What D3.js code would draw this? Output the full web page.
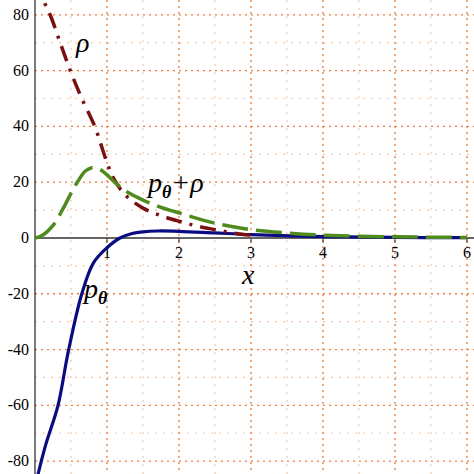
<!DOCTYPE html>
<html>
<head>
<meta charset="utf-8">
<script src="https://cdn.jsdelivr.net/npm/d3@7"></script>
<style>
  body { margin: 0; background: #fff; }
</style>
</head>
<body>
<svg id="chart" width="474" height="474"></svg>
<script>
// values
const rhoX = [0, 0.1, 0.21, 0.35, 0.49, 0.65, 0.83, 1.0, 1.1, 1.25, 1.5, 1.75, 2.0, 2.25, 2.5, 2.75, 3.0];
const rhoY = [92, 86, 80, 70, 60, 50, 40, 27, 21, 15.5, 10.7, 8, 6, 4.3, 3, 1.8, 1];
const sumX = [0, 0.1, 0.25, 0.4, 0.5, 0.6, 0.7, 0.79, 0.9, 1.0, 1.15, 1.3, 1.5, 1.75, 2.0, 2.5, 3.0, 3.5, 4.0, 5.0, 6.0];
const sumY = [0, 0.9, 4.5, 11, 16, 20.5, 24, 25.2, 24.6, 22.6, 19, 16.2, 13.6, 11, 9, 5.3, 3, 1.8, 1, 0.4, 0.2];
const pX = [0.03, 0.15, 0.32, 0.46, 0.65, 0.81, 1.0, 1.18, 1.35, 1.5, 1.7, 2.0, 2.5, 3.0, 4.0, 5.0, 6.0];
const pY = [-86, -74, -60, -41, -20, -9, -3.5, 0, 1.6, 2.2, 2.5, 2.4, 1.8, 1.2, 0.5, 0.2, 0.1];
const xTicks = [1, 2, 3, 4, 5, 6];
const yTicks = [-80, -60, -40, -20, 0, 20, 40, 60, 80];

const serif = "'Liberation Serif', 'DejaVu Serif', serif";
const svg = d3.select("#chart").attr("font-family", serif);
const x = d3.scaleLinear().domain([0, 6]).range([35, 467]);
const y = d3.scaleLinear().domain([-84.6, 85.3]).range([474, 0]);

// grid
const minorX = d3.range(0.5, 6.1, 1), minorY = d3.range(-70, 81, 20);
const g = svg.append("g");
g.selectAll(".mx").data(minorX).join("line")
  .attr("x1", d => x(d)).attr("x2", d => x(d)).attr("y1", 0).attr("y2", 474)
  .attr("stroke", "#f5c9a8").attr("stroke-width", 1.2).attr("stroke-dasharray", "2,6");
g.selectAll(".my").data(minorY).join("line")
  .attr("y1", d => y(d)).attr("y2", d => y(d)).attr("x1", 35).attr("x2", 474)
  .attr("stroke", "#f5c9a8").attr("stroke-width", 1.2).attr("stroke-dasharray", "2,6");
g.selectAll(".Mx").data(xTicks).join("line")
  .attr("x1", d => x(d)).attr("x2", d => x(d)).attr("y1", 0).attr("y2", 474)
  .attr("stroke", "#ee7a40").attr("stroke-width", 1.3).attr("stroke-dasharray", "2,4");
g.selectAll(".My").data(yTicks.filter(d => d != 0)).join("line")
  .attr("y1", d => y(d)).attr("y2", d => y(d)).attr("x1", 35).attr("x2", 474)
  .attr("stroke", "#ee7a40").attr("stroke-width", 1.3).attr("stroke-dasharray", "2,4");

// axes
svg.append("line").attr("x1", x(0)).attr("x2", x(0)).attr("y1", 0).attr("y2", 474)
  .attr("stroke", "#333").attr("stroke-width", 1.3);
svg.append("line").attr("x1", x(0)).attr("x2", 474).attr("y1", y(0)).attr("y2", y(0))
  .attr("stroke", "#333").attr("stroke-width", 1.3);
svg.selectAll(".xt").data(xTicks).join("line")
  .attr("x1", d => x(d)).attr("x2", d => x(d)).attr("y1", y(0)).attr("y2", y(0) + 5)
  .attr("stroke", "#333");
svg.selectAll(".xl").data(xTicks).join("text")
  .attr("x", d => x(d)).attr("y", y(0) + 20).attr("text-anchor", "middle")
  .attr("font-family", serif).attr("font-size", 16).text(d => d);
svg.selectAll(".yl").data(yTicks).join("text")
  .attr("x", 29).attr("y", d => y(d) + 5).attr("text-anchor", "end")
  .attr("font-family", serif).attr("font-size", 16).text(d => d < 0 ? "-" + (-d) : d);

// curves
const line = (xs, ys) => d3.line().x(i => x(xs[i])).y(i => y(ys[i])).curve(d3.curveCatmullRom.alpha(0.5))(d3.range(xs.length));
svg.append("clipPath").attr("id", "c").append("rect")
  .attr("x", 35).attr("y", 0).attr("width", 439).attr("height", 474);
const curves = svg.append("g").attr("clip-path", "url(#c)");
curves.append("path").attr("d", line(pX, pY)).attr("fill", "none")
  .attr("stroke", "#0c0c82").attr("stroke-width", 3.2);
curves.append("path").attr("d", line(rhoX, rhoY)).attr("fill", "none")
  .attr("stroke", "#7a1012").attr("stroke-width", 3.5).attr("stroke-dasharray", "16,8,3,8");
curves.append("path").attr("d", line(sumX, sumY)).attr("fill", "none")
  .attr("stroke", "#4f8a1c").attr("stroke-width", 3.5).attr("stroke-dasharray", "26,8");

// labels
const lab = (px, py, parts) => {
  const t = svg.append("text").attr("x", px).attr("y", py).attr("font-family", serif)
    .attr("font-size", 28).attr("font-style", "italic");
  parts.forEach(p => t.append("tspan").attr("dy", p.dy || 0).attr("font-size", p.fs || 28)
    .attr("font-weight", p.fw || "normal").text(p.t));
};
lab(76, 52, [{ t: "ρ" }]);
lab(148, 192, [{ t: "p" }, { t: "θ", dy: 6, fs: 18, fw: "bold" }, { t: "+ρ", dy: -6 }]);
lab(84, 298, [{ t: "p" }, { t: "θ", dy: 6, fs: 18, fw: "bold" }]);
lab(242, 284, [{ t: "x" }]);
</script>
</body>
</html>
